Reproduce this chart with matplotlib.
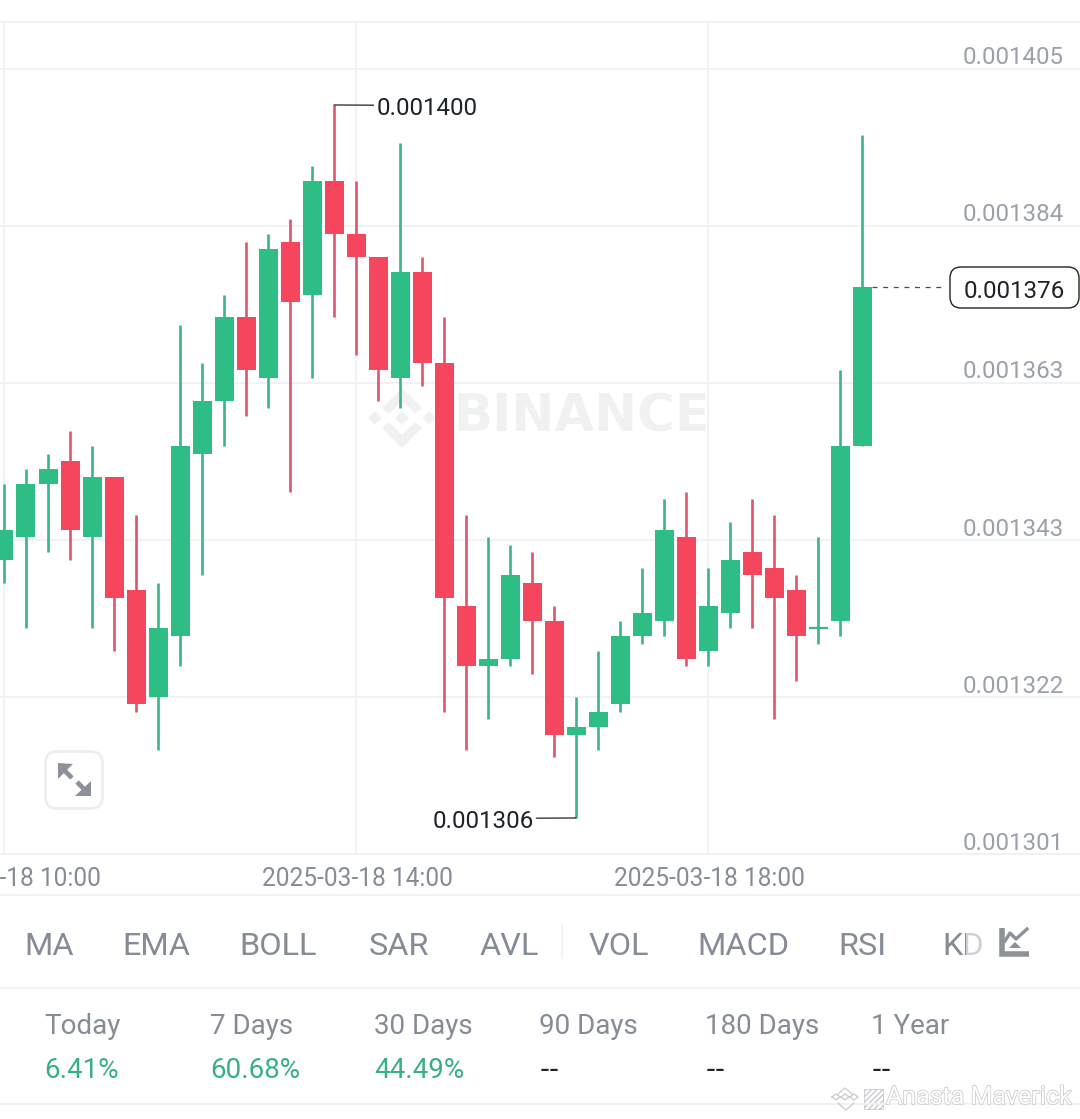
import numpy as np
import pandas as pd
import matplotlib
matplotlib.use("Agg")
import matplotlib.pyplot as plt
import matplotlib.dates as mdates
import matplotlib.patheffects as pe
from matplotlib.patches import FancyBboxPatch, Polygon
from matplotlib.transforms import Affine2D

W, H = 1080, 1119

# prices in units of 0.000001, 15 minute candles from 10:00
opens = [1340, 1343, 1350, 1353, 1343, 1351, 1336, 1322, 1330, 1354, 1361, 1372, 1364, 1382, 1375, 1390, 1383, 1380, 1364, 1378,
         1366, 1334, 1326, 1327, 1337, 1332, 1317, 1318, 1321, 1330, 1332, 1343, 1328, 1333, 1341, 1339, 1336, 1331, 1332, 1355]
closes = [1344, 1350, 1352, 1344, 1351, 1335, 1321, 1331, 1355, 1361, 1372, 1365, 1381, 1374, 1390, 1383, 1380, 1365, 1378, 1366,
          1335, 1326, 1327, 1338, 1332, 1317, 1318, 1320, 1330, 1333, 1344, 1327, 1334, 1340, 1338, 1335, 1330, 1331, 1355, 1376]
highs = [1350, 1352, 1354, 1357, 1355, 1351, 1346, 1337, 1371, 1366, 1375, 1382, 1383, 1385, 1392, 1400, 1390, 1380, 1395, 1380,
         1372, 1346, 1343, 1342, 1341, 1334, 1322, 1328, 1332, 1339, 1348, 1349, 1339, 1345, 1348, 1346, 1338, 1343, 1365, 1396]
lows = [1337, 1331, 1341, 1340, 1331, 1328, 1320, 1315, 1326, 1338, 1355, 1359, 1360, 1349, 1364, 1372, 1367, 1361, 1360, 1363,
        1320, 1315, 1319, 1326, 1325, 1314, 1306, 1315, 1320, 1329, 1330, 1326, 1326, 1331, 1331, 1319, 1324, 1329, 1330, 1355]

price_ticks = [1404.75, 1384.05, 1363.35, 1342.6, 1321.9, 1301.25]
time_ticks = ["2025-03-18 10:00", "2025-03-18 14:00", "2025-03-18 18:00"]

indicators = ["MA", "EMA", "BOLL", "SAR", "AVL", "VOL", "MACD", "RSI", "KD"]
indicator_x = [24.5, 122.5, 239.5, 369, 479.5, 589, 697.5, 838.5, 942.5]
periods = ["Today", "7 Days", "30 Days", "90 Days", "180 Days", "1 Year"]
changes = ["6.41%", "60.68%", "44.49%", "--", "--", "--"]
period_x = [44, 210, 374, 539, 705, 871]

GREEN = "#2EBD85"
RED = "#F6465D"
GREEN_WICK = "#3BB48A"
RED_WICK = "#E0556A"
GREEN_TEXT = "#38B083"
GRID = "#EFF1F3"
GREY = "#858C98"
AXIS_GREY = "#9BA1AB"
DARK = "#1E2329"
ICON = "#8D929A"
FAINT = "#C8CACE"

plt.rcParams["font.family"] = ["Roboto", "DejaVu Sans"]
plt.rcParams["ytick.alignment"] = "bottom"

fig = plt.figure(figsize=(W / 100, H / 100), dpi=100, facecolor="white")

# ── Pixel layer for the app furniture ─────────────────────────────────────────
bg = fig.add_axes([0, 0, 1, 1], zorder=0)
bg.set_xlim(0, W)
bg.set_ylim(H, 0)
bg.axis("off")

for y in [22, 854, 895, 988, 1104]:
    bg.plot([0, W], [y, y], color=GRID, lw=1.3)
bg.plot([562, 562], [926, 958], color=GRID, lw=1.2)

# Binance watermark
WM = "#F0F2F2"
bg.text(453, 417, "BINANCE", fontsize=37, fontweight="bold", family="DejaVu Sans", color=WM, va="center", ha="left")
logo_x, logo_y = 402, 418
for dx in [-27, 0, 27]:
    bg.add_patch(Polygon([(logo_x + dx - 7, logo_y), (logo_x + dx, logo_y - 7),
                          (logo_x + dx + 7, logo_y), (logo_x + dx, logo_y + 7)], color=WM, lw=0))
for s in [-1, 1]:
    bg.add_patch(Polygon([(logo_x, logo_y + s * 30), (logo_x - 20, logo_y + s * 10), (logo_x - 13, logo_y + s * 4),
                          (logo_x, logo_y + s * 17), (logo_x + 13, logo_y + s * 4), (logo_x + 20, logo_y + s * 10)],
                         color=WM, lw=0))

# expand button
bg.add_patch(FancyBboxPatch((45.5, 751.5), 57, 57, boxstyle="round,pad=0,rounding_size=12",
                            fc="white", ec="#ECEEF0", lw=2))
bg.add_patch(Polygon([(58, 763), (73, 764), (58, 779)], color=ICON, lw=0))
bg.add_patch(Polygon([(91, 796), (75, 796), (91, 781)], color=ICON, lw=0))
bg.plot([62, 72], [768, 778], color=ICON, lw=3.4, solid_capstyle="butt")
bg.plot([87, 77], [792, 782], color=ICON, lw=3.4, solid_capstyle="butt")

# indicator row
for name, x_pos in zip(indicators, indicator_x):
    bg.text(x_pos, 946.5, name, fontsize=23.4, color=GREY, va="center", ha="left")
bg.add_patch(plt.Rectangle((966, 922), 30, 44, fc="white", ec="none", alpha=0.6, zorder=5))
bg.plot([1002, 1002, 1029], [928, 954, 954], color=ICON, lw=4, solid_joinstyle="miter", solid_capstyle="butt", zorder=6)
bg.plot([1005, 1010, 1016, 1027], [941, 933, 939, 929], color=ICON, lw=2.4, zorder=6)
bg.add_patch(Polygon([(1015, 942), (1009, 948), (1021, 948)], color=ICON, lw=0, zorder=6))

# period row
for name, change, x_pos in zip(periods, changes, period_x):
    bg.text(x_pos, 1026, name, fontsize=20, color=GREY, va="center", ha="left")
    if "%" in change:
        bg.text(x_pos, 1070, change, fontsize=20, color=GREEN_TEXT, va="center", ha="left")
    else:
        bg.text(x_pos + 1, 1070, change, fontsize=20, family="DejaVu Sans", color=DARK, va="center", ha="left")

# author mark at the bottom
stroke = [pe.withStroke(linewidth=1.1, foreground=FAINT)]
bg.text(886, 1097, "Anasta Maverick", fontsize=18, color="white", va="center", ha="left", path_effects=stroke)
bg.plot([838, 845, 852], [1094, 1088, 1094], color=FAINT, lw=0.9)
bg.plot([838, 846, 854], [1103, 1110, 1103], color=FAINT, lw=0.9)
bg.plot([832, 836, 840, 836, 832], [1097, 1094, 1097, 1100, 1097], color=FAINT, lw=0.9)
bg.plot([850, 854, 858, 854, 850], [1097, 1094, 1097, 1100, 1097], color=FAINT, lw=0.9)
bg.plot([841, 845, 849, 845, 841], [1097, 1094, 1097, 1100, 1097], color=FAINT, lw=0.9)
bg.add_patch(plt.Rectangle((864, 1089), 19, 20, fc="white", ec=FAINT, lw=0.6, hatch="//////"))

# ── Candles ───────────────────────────────────────────────────────────────────
times = pd.date_range("2025-03-18 10:00", periods=len(opens), freq="15min")
x = mdates.date2num(times)
step = x[1] - x[0]
px = step / 22  # one screen pixel along the time axis
to_price = 1e-6

ax = fig.add_axes([0, (H - 854) / H, 1, (854 - 22) / H], zorder=1)
ax.patch.set_alpha(0)
ax.set_xlim(x[0] - 4 * px, x[0] + 1076 * px)
ax.set_ylim(1301.25 * to_price, 1410.94 * to_price)

for i in range(len(x)):
    up = closes[i] >= opens[i]
    body = GREEN if up else RED
    wick = GREEN_WICK if up else RED_WICK
    ax.vlines(x[i], lows[i] * to_price, highs[i] * to_price, color=wick, lw=1.9, zorder=3)
    if opens[i] == closes[i]:
        ax.hlines(closes[i] * to_price, x[i] - 9.5 * px, x[i] + 9.5 * px, color=wick, lw=1.6, zorder=3)
    else:
        ax.bar(x[i], (closes[i] - opens[i]) * to_price, bottom=opens[i] * to_price, width=19 * px,
               color=body, lw=0, zorder=4)

ax.set_yticks([p * to_price for p in price_ticks])
ax.set_yticklabels([f"{p * to_price:.6f}" for p in price_ticks])
ax.set_xticks(mdates.date2num(pd.to_datetime(time_ticks)))
ax.xaxis.set_major_formatter(mdates.DateFormatter("%Y-%m-%d %H:%M"))
ax.grid(True, color=GRID, lw=1.3, zorder=0)
ax.set_axisbelow(True)
for s in ax.spines.values():
    s.set_visible(False)
ax.tick_params(axis="y", direction="in", length=0, pad=-11.5, labelright=True, labelleft=False,
               labelsize=17.4, labelcolor=AXIS_GREY)
ax.tick_params(axis="x", length=0, pad=9, labelsize=17.65, labelcolor=GREY)
for lbl in ax.get_yticklabels():
    lbl.set_ha("right")
    lbl.set_transform(lbl.get_transform() + Affine2D().translate(0, -0.5))
for lbl in ax.get_xticklabels():
    lbl.set_transform(lbl.get_transform() + Affine2D().translate(1, 0))

# high / low markers
i_high = int(np.argmax(highs))
i_low = int(np.argmin(lows))
ax.annotate(f"{highs[i_high] * to_price:.6f}", xy=(x[i_high], highs[i_high] * to_price), xytext=(30.5, -2.8),
            textcoords="offset points", fontsize=17.4, color=DARK, ha="left", va="center",
            arrowprops=dict(arrowstyle="-", color=DARK, lw=0.9, shrinkA=0, shrinkB=0, relpos=(0, 0.66)), zorder=6)
ax.annotate(f"{lows[i_low] * to_price:.6f}", xy=(x[i_low], lows[i_low] * to_price), xytext=(-30.5, -2.8),
            textcoords="offset points", fontsize=17.4, color=DARK, ha="right", va="center",
            arrowprops=dict(arrowstyle="-", color=DARK, lw=0.9, shrinkA=0, shrinkB=0, relpos=(1, 0.66)), zorder=6)

# last price
last = closes[-1] * to_price
ax.plot([x[-1] + 10 * px, x[-1] + 84 * px], [last, last], color="#474D57", lw=0.9, dashes=(4, 4.5), zorder=3)
bg.add_patch(FancyBboxPatch((950, 267), 129, 41, boxstyle="round,pad=0,rounding_size=11", fc="white", ec=DARK, lw=1))
bg.text(1014, 292, f"{last:.6f}", fontsize=17.4, color=DARK, ha="center", va="center")

fig.savefig("out.png", dpi=100)
